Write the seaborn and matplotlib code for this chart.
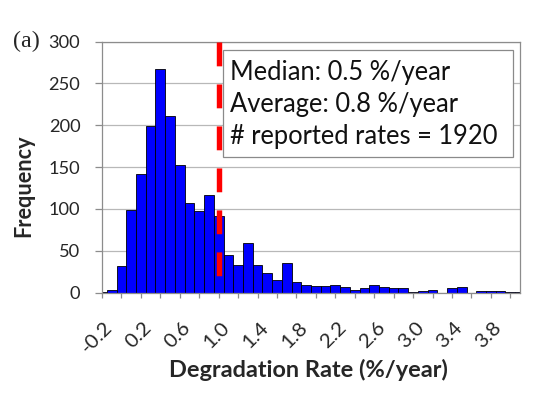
import numpy as np
import pandas as pd
import matplotlib
matplotlib.use("Agg")
import matplotlib.pyplot as plt
import matplotlib.transforms as mtransforms
from matplotlib.patches import Rectangle
import seaborn as sns

# ---------------- data ----------------
bin_centers = [-0.2, -0.1, 0.0, 0.1, 0.2, 0.3, 0.4, 0.5, 0.6, 0.7, 0.8, 0.9,
               1.0, 1.1, 1.2, 1.3, 1.4, 1.5, 1.6, 1.7, 1.8, 1.9, 2.0, 2.1,
               2.2, 2.3, 2.4, 2.5, 2.6, 2.7, 2.8, 2.9, 3.0, 3.1, 3.2, 3.3,
               3.4, 3.5, 3.6, 3.7, 3.8, 3.9, 4.0, 4.1]
counts = [1, 3, 32, 99, 142, 199, 267, 211, 152, 107, 97, 117,
          92, 45, 33, 59, 33, 23, 15, 35, 12, 9, 8, 8,
          9, 6, 3, 5, 9, 7, 5, 5, 1, 2, 3, 0,
          5, 7, 0, 2, 2, 2, 1, 1]
bin_width = 0.1
x_tick_values = [-0.2, 0.0, 0.2, 0.4, 0.6, 0.8, 1.0, 1.2, 1.4, 1.6, 1.8, 2.0,
                 2.2, 2.4, 2.6, 2.8, 3.0, 3.2, 3.4, 3.6, 3.8, 4.0]
x_tick_labels = ["-0.2", "", "0.2", "", "0.6", "", "1.0", "", "1.4", "", "1.8", "",
                 "2.2", "", "2.6", "", "3.0", "", "3.4", "", "3.8", ""]
y_tick_values = [0, 50, 100, 150, 200, 250, 300]
threshold_rate = 1.0
stats_lines = ["Median: 0.5 %/year", "Average: 0.8 %/year", "# reported rates = 1920"]
panel_label = "(a)"
x_label = "Degradation Rate (%/year)"
y_label = "Frequency"

df = pd.DataFrame({"rate": bin_centers, "count": counts})

# ---------------- style ----------------
sns.set_style("white")
plt.rcParams["font.family"] = ["Lato", "DejaVu Sans"]

W, H = 533, 400
fig = plt.figure(figsize=(W / 100, H / 100), dpi=100)

def fx(px):
    return px / W

def fy(py):
    return 1 - py / H

def fit_size(s, target_px, weight="normal", family=None, base=12.0):
    kw = {"fontsize": base, "fontweight": weight}
    if family is not None:
        kw["family"] = family
    t = fig.text(0, 0, s, **kw)
    r = fig.canvas.get_renderer()
    w = t.get_window_extent(renderer=r).width
    t.remove()
    return base * target_px / w

ax_l, ax_r, ax_t, ax_b = 102, 520, 41.7, 292.5
ax = fig.add_axes([fx(ax_l), fy(ax_b), fx(ax_r - ax_l), (ax_b - ax_t) / H])

spine_col = "#8c8c8c"
grid_col = "#b8b8b8"

sns.histplot(data=df, x="rate", weights="count", binwidth=bin_width,
             binrange=(bin_centers[0] - bin_width / 2, bin_centers[-1] + bin_width / 2),
             color="#0000ff", edgecolor="black", linewidth=0.6, alpha=1.0,
             ax=ax, zorder=2)

ax.set_xlim(bin_centers[0], bin_centers[-1])
ax.set_ylim(y_tick_values[0], y_tick_values[-1])

ax.yaxis.grid(True, color=grid_col, linewidth=0.9, zorder=0)
ax.xaxis.grid(False)
ax.set_axisbelow(True)
for sp in ax.spines.values():
    sp.set_visible(True)
    sp.set_color(spine_col)
    sp.set_linewidth(0.9)

# threshold line (dashed red), drawn from the top down
ax.axvline(threshold_rate, ymin=1, ymax=0, color="#ff0000", linewidth=3.9,
           dashes=(4.4, 3.35), dash_capstyle="butt", zorder=3)

# ticks
tick_fs = fit_size("300", 31.7)
xtick_fs = tick_fs * 1.12
ax.set_yticks(y_tick_values)
ax.set_yticklabels([str(v) for v in y_tick_values])
ax.set_xticks(x_tick_values)
ax.set_xticklabels(x_tick_labels)
ax.tick_params(axis="y", direction="out", length=6.7 * 0.72, width=0.9,
               color=spine_col, pad=15 * 0.72, labelsize=tick_fs, left=True)
ax.tick_params(axis="x", direction="out", length=5 * 0.72, width=0.9,
               color=spine_col, pad=27 * 0.72, labelsize=xtick_fs, bottom=True)
offset = mtransforms.ScaledTranslation(8 / 100, 0, fig.dpi_scale_trans)
for lab in ax.get_xticklabels():
    lab.set_rotation(45)
    lab.set_ha("right")
    lab.set_va("center")
    lab.set_rotation_mode("anchor")
    lab.set_transform(lab.get_transform() + offset)

# axis labels
xl_fs = fit_size(x_label, 277, weight="bold")
yl_fs = fit_size(y_label, 102, weight="bold")
ax.set_xlabel(x_label, fontsize=xl_fs, fontweight="bold", va="baseline")
ax.xaxis.set_label_coords((308.3 - ax_l) / (ax_r - ax_l), (ax_b - 376.7) / (ax_b - ax_t))
ax.set_ylabel(y_label, fontsize=yl_fs, fontweight="bold", va="baseline", ha="center")
ax.yaxis.set_label_coords((30.5 - ax_l) / (ax_r - ax_l), (ax_b - 186) / (ax_b - ax_t))

# stats box
box = Rectangle((fx(222.7), fy(156.7)), fx(513.3 - 222.7), (156.7 - 50) / H,
                transform=fig.transFigure, facecolor="white", edgecolor="#8a8a8a",
                linewidth=0.9, zorder=5)
fig.patches.append(box)
st_fs = fit_size(stats_lines[2], 267)
for line, base_y in zip(stats_lines, [80, 111.7, 144.3]):
    fig.text(fx(230), fy(base_y), line, fontsize=st_fs, color="#111111",
             ha="left", va="baseline", zorder=6)

# panel label
pl_fs = fit_size(panel_label, 27, family=["Liberation Serif", "DejaVu Serif"])
fig.text(fx(13), fy(41), panel_label, fontsize=pl_fs,
         family=["Liberation Serif", "DejaVu Serif"], ha="left", va="center")

fig.savefig("out.png", dpi=100)
